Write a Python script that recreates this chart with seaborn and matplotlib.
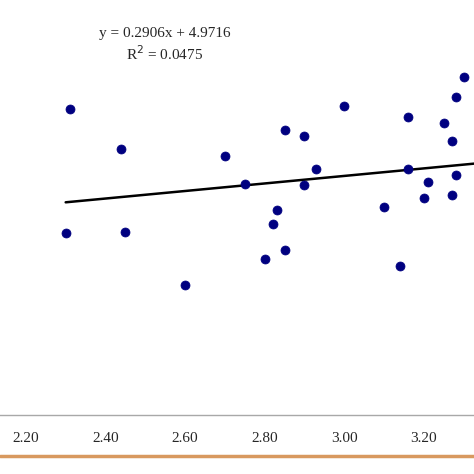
import matplotlib.pyplot as plt
import seaborn as sns
import numpy as np
import pandas as pd

# values
x_vals = [2.30, 2.31, 2.44, 2.45, 2.60, 2.70, 2.75, 2.82, 2.83, 2.85, 2.85,
          2.80, 2.90, 2.90, 2.93, 3.00, 3.10, 3.14, 3.16, 3.16, 3.20, 3.21,
          3.25, 3.27, 3.27, 3.28, 3.28, 3.30]
y_vals = [5.40, 6.36, 6.05, 5.41, 5.00, 6.00, 5.78, 5.47, 5.58, 6.20, 5.27,
          5.20, 6.15, 5.77, 5.90, 6.38, 5.60, 5.15, 6.30, 5.90, 5.67, 5.80,
          6.25, 6.11, 5.70, 6.45, 5.85, 6.61]
slope = 0.2906
intercept = 4.9716
r2 = 0.0475
trend_x = [2.30, 3.40]
xticks = [2.20, 2.40, 2.60, 2.80, 3.00, 3.20]

df = pd.DataFrame({"x": x_vals, "y": y_vals})
trend = pd.DataFrame({"x": trend_x})
trend["y"] = slope * trend["x"] + intercept

sns.set_style("white")
plt.rcParams['font.family'] = ['Liberation Serif', 'DejaVu Serif']

fig = plt.figure(figsize=(4.74, 4.74), dpi=100)
ax = fig.add_axes([0, 0.1245, 1, 0.8755])

sns.lineplot(data=trend, x="x", y="y", color="black", linewidth=1.8, ax=ax)
sns.scatterplot(data=df, x="x", y="y", color="#000080", edgecolor="#000080",
                s=42, ax=ax, zorder=3)

ax.set_xlim(2.135, 3.326)
ax.set_ylim(4.0, 7.2)
ax.set_xticks(xticks)
ax.set_xticklabels([f"{t:.2f}" for t in xticks], fontsize=11)
ax.set_yticks([])
ax.set_xlabel("")
ax.set_ylabel("")
for side in ["top", "left", "right"]:
    ax.spines[side].set_visible(False)
ax.spines["bottom"].set_color("#a8a8a8")
ax.spines["bottom"].set_linewidth(1)
ax.tick_params(axis="x", direction="in", length=4, color="#a8a8a8", pad=12)

# equation label
fig.text(0.348, 0.93, f"y = {slope}x + {intercept}", ha="center", va="center", fontsize=11)
fig.text(0.348, 0.886, f"R$^2$ = {r2}", ha="center", va="center", fontsize=11)

# orange rule along the bottom
fig.add_artist(plt.Line2D([0, 1], [0.038, 0.038], color="#d8995f", linewidth=2.5))

fig.savefig("out.png", dpi=100)
